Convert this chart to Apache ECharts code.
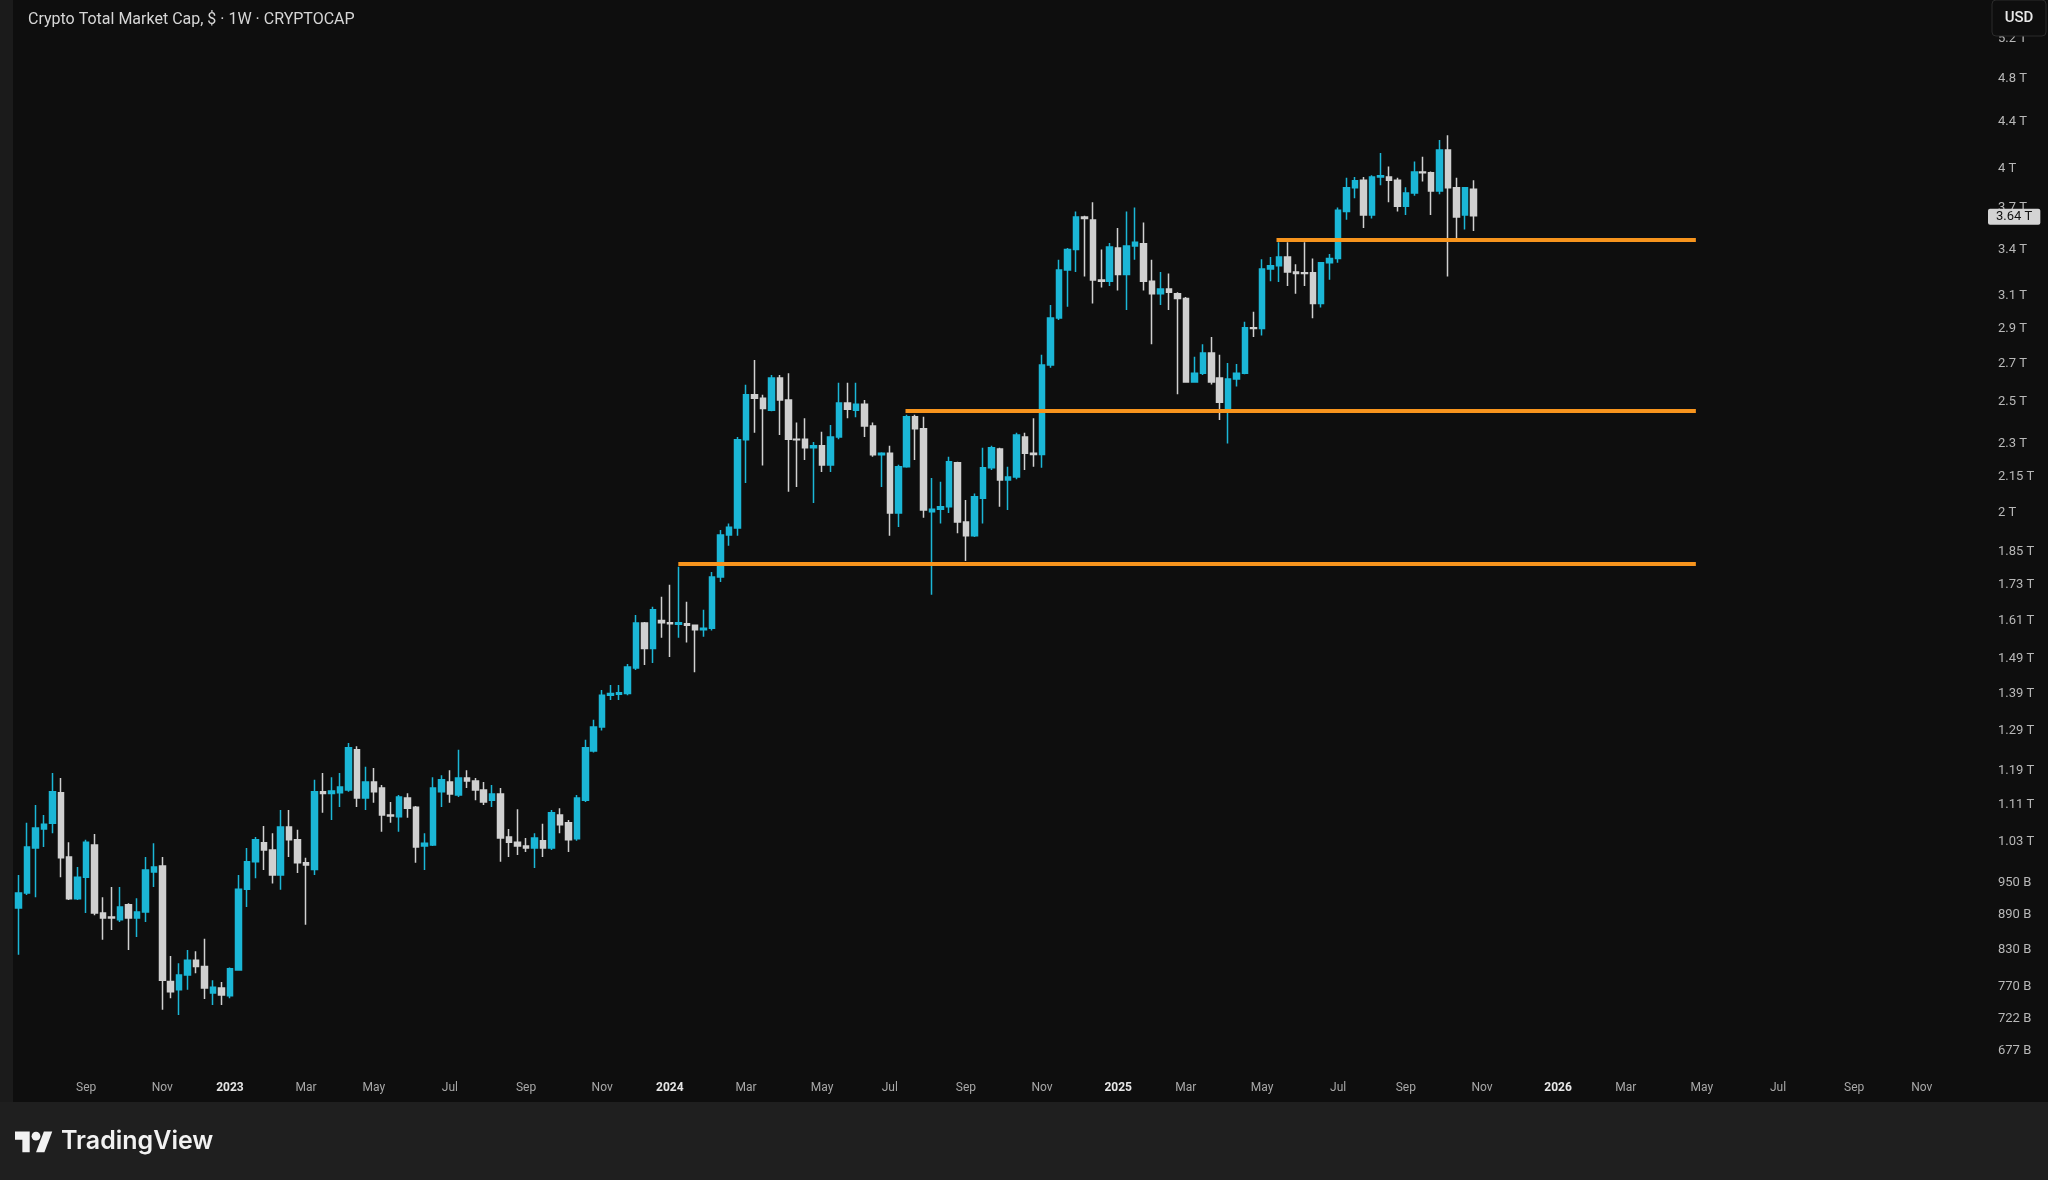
<!DOCTYPE html>
<html><head><meta charset="utf-8">
<script src="https://cdn.jsdelivr.net/npm/echarts@6/dist/echarts.min.js"></script>
<style>html,body{margin:0;padding:0;background:#0e0e0e;}#c{width:2048px;height:1180px;}</style>
</head><body><div id="c"></div>
<script>
// Weekly bars (Monday open time)
const weeks = [
'2022-07-11','2022-07-18','2022-07-25','2022-08-01','2022-08-08','2022-08-15','2022-08-22','2022-08-29','2022-09-05','2022-09-12','2022-09-19','2022-09-26','2022-10-03','2022-10-10','2022-10-17','2022-10-24','2022-10-31','2022-11-07','2022-11-14','2022-11-21','2022-11-28','2022-12-05','2022-12-12','2022-12-19','2022-12-26',
'2023-01-02','2023-01-09','2023-01-16','2023-01-23','2023-01-30','2023-02-06','2023-02-13','2023-02-20','2023-02-27','2023-03-06','2023-03-13','2023-03-20','2023-03-27','2023-04-03','2023-04-10','2023-04-17','2023-04-24','2023-05-01','2023-05-08','2023-05-15','2023-05-22','2023-05-29','2023-06-05','2023-06-12','2023-06-19','2023-06-26','2023-07-03','2023-07-10','2023-07-17','2023-07-24','2023-07-31','2023-08-07','2023-08-14','2023-08-21','2023-08-28','2023-09-04','2023-09-11','2023-09-18','2023-09-25','2023-10-02','2023-10-09','2023-10-16','2023-10-23','2023-10-30','2023-11-06','2023-11-13','2023-11-20','2023-11-27','2023-12-04','2023-12-11','2023-12-18','2023-12-25',
'2024-01-01','2024-01-08','2024-01-15','2024-01-22','2024-01-29','2024-02-05','2024-02-12','2024-02-19','2024-02-26','2024-03-04','2024-03-11','2024-03-18','2024-03-25','2024-04-01','2024-04-08','2024-04-15','2024-04-22','2024-04-29','2024-05-06','2024-05-13','2024-05-20','2024-05-27','2024-06-03','2024-06-10','2024-06-17','2024-06-24','2024-07-01','2024-07-08','2024-07-15','2024-07-22','2024-07-29','2024-08-05','2024-08-12','2024-08-19','2024-08-26','2024-09-02','2024-09-09','2024-09-16','2024-09-23','2024-09-30','2024-10-07','2024-10-14','2024-10-21','2024-10-28','2024-11-04','2024-11-11','2024-11-18','2024-11-25','2024-12-02','2024-12-09','2024-12-16','2024-12-23','2024-12-30',
'2025-01-06','2025-01-13','2025-01-20','2025-01-27','2025-02-03','2025-02-10','2025-02-17','2025-02-24','2025-03-03','2025-03-10','2025-03-17','2025-03-24','2025-03-31','2025-04-07','2025-04-14','2025-04-21','2025-04-28','2025-05-05','2025-05-12','2025-05-19','2025-05-26','2025-06-02','2025-06-09','2025-06-16','2025-06-23','2025-06-30','2025-07-07','2025-07-14','2025-07-21','2025-07-28','2025-08-04','2025-08-11','2025-08-18','2025-08-25','2025-09-01','2025-09-08','2025-09-15','2025-09-22','2025-09-29','2025-10-06','2025-10-13','2025-10-20','2025-10-27'
];
// [open, close, low, high] in trillions USD
const candles = [
[0.902,0.930,0.821,0.964],[0.930,1.020,0.926,1.071],[1.018,1.060,0.922,1.110],[1.058,1.068,1.020,1.088],[1.070,1.140,1.049,1.184],
[1.138,0.998,0.960,1.172],[1.000,0.919,0.917,1.030],[0.919,0.960,0.917,0.980],[0.960,1.030,0.893,1.035],[1.024,0.893,0.889,1.047],
[0.893,0.884,0.846,0.922],[0.886,0.884,0.863,0.941],[0.881,0.904,0.877,0.941],[0.908,0.884,0.829,0.911],[0.884,0.895,0.851,0.920],
[0.895,0.974,0.877,1.000],[0.970,0.980,0.941,1.028],[0.982,0.780,0.735,1.000],[0.778,0.762,0.752,0.819],[0.765,0.788,0.727,0.807],
[0.788,0.812,0.765,0.829],[0.812,0.802,0.791,0.827],[0.802,0.768,0.751,0.848],[0.760,0.769,0.742,0.780],[0.768,0.757,0.742,0.777],
[0.756,0.798,0.752,0.800],[0.796,0.937,0.796,0.964],[0.937,0.990,0.904,1.018],[0.990,1.035,0.958,1.041],[1.029,1.014,0.974,1.064],
[1.014,0.964,0.948,1.049],[0.964,1.062,0.936,1.099],[1.062,1.035,1.000,1.099],[1.035,0.988,0.968,1.056],[0.988,0.984,0.872,0.998],
[0.975,1.140,0.964,1.168],[1.140,1.136,1.093,1.184],[1.136,1.142,1.077,1.174],[1.138,1.151,1.106,1.184],[1.144,1.246,1.140,1.258],
[1.241,1.126,1.106,1.250],[1.126,1.163,1.099,1.199],[1.163,1.140,1.115,1.196],[1.149,1.088,1.052,1.156],[1.088,1.086,1.071,1.117],
[1.084,1.128,1.052,1.133],[1.126,1.103,1.082,1.137],[1.105,1.020,0.988,1.108],[1.022,1.028,0.974,1.049],[1.024,1.149,1.022,1.174],
[1.140,1.168,1.106,1.179],[1.163,1.135,1.115,1.191],[1.133,1.172,1.128,1.241],[1.172,1.165,1.149,1.191],[1.165,1.144,1.121,1.172],
[1.144,1.117,1.110,1.163],[1.121,1.135,1.106,1.156],[1.135,1.039,0.990,1.149],[1.041,1.030,1.000,1.058],[1.030,1.022,1.004,1.101],
[1.022,1.018,1.010,1.039],[1.018,1.039,0.978,1.049],[1.033,1.018,1.000,1.069],[1.018,1.093,1.014,1.099],[1.088,1.067,1.049,1.103],
[1.071,1.035,1.010,1.077],[1.037,1.126,1.033,1.133],[1.121,1.246,1.117,1.266],[1.238,1.299,1.234,1.318],[1.299,1.385,1.290,1.400],
[1.385,1.390,1.372,1.414],[1.388,1.392,1.372,1.414],[1.390,1.466,1.385,1.475],[1.463,1.602,1.457,1.628],[1.602,1.522,1.472,1.605],
[1.522,1.645,1.478,1.655],[1.610,1.603,1.555,1.689],
[1.603,1.600,1.496,1.730],[1.598,1.603,1.555,1.794],[1.600,1.595,1.540,1.672],[1.595,1.580,1.451,1.595],[1.580,1.585,1.558,1.645],
[1.585,1.758,1.578,1.775],[1.758,1.913,1.740,1.932],[1.913,1.943,1.872,1.958],[1.940,2.317,1.910,2.331],[2.317,2.537,2.124,2.589],
[2.537,2.520,2.350,2.722],[2.520,2.468,2.200,2.537],[2.460,2.625,2.455,2.640],[2.625,2.511,2.340,2.640],[2.511,2.320,2.087,2.650],
[2.320,2.318,2.107,2.400],[2.320,2.280,2.225,2.420],[2.280,2.290,2.040,2.307],[2.290,2.203,2.172,2.355],[2.203,2.331,2.172,2.388],
[2.331,2.496,2.320,2.600],[2.496,2.465,2.420,2.600],[2.460,2.490,2.425,2.600],[2.490,2.383,2.330,2.511],[2.383,2.248,2.240,2.400],
[2.248,2.255,2.107,2.260],[2.255,2.000,1.910,2.290],[2.000,2.195,1.944,2.204],[2.195,2.427,2.190,2.437],[2.427,2.370,2.225,2.437],
[2.370,2.012,1.980,2.427],[2.005,2.015,1.696,2.146],[2.015,2.025,1.958,2.130],[2.025,2.217,2.000,2.240],[2.213,1.964,1.920,2.217],
[1.964,1.910,1.815,2.053],[1.910,2.066,1.905,2.080],[2.060,2.190,1.958,2.280],[2.190,2.280,2.180,2.290],[2.275,2.137,2.025,2.280],
[2.137,2.150,2.012,2.195],[2.150,2.340,2.140,2.350],[2.330,2.255,2.180,2.350],[2.255,2.250,2.195,2.420],[2.250,2.694,2.190,2.750],
[2.694,2.962,2.680,3.040],[2.962,3.263,2.950,3.330],[3.263,3.400,3.030,3.410],[3.400,3.631,3.250,3.670],[3.631,3.620,3.220,3.640],
[3.609,3.198,3.050,3.740],[3.198,3.190,3.150,3.400],[3.190,3.417,3.160,3.445],
[3.410,3.233,3.130,3.550],[3.233,3.424,3.010,3.670],[3.424,3.450,3.330,3.700],[3.440,3.190,3.130,3.590],[3.190,3.110,2.810,3.330],
[3.110,3.140,3.040,3.250],[3.140,3.120,3.010,3.240],[3.110,3.080,2.540,3.120],[3.080,2.604,2.600,3.090],[2.604,2.650,2.600,2.740],
[2.650,2.760,2.640,2.810],[2.760,2.604,2.590,2.850],[2.625,2.500,2.412,2.750],[2.460,2.620,2.300,2.705],[2.620,2.650,2.580,2.700],
[2.650,2.905,2.645,2.940],[2.905,2.900,2.850,3.000],[2.900,3.270,2.860,3.335],[3.270,3.290,3.190,3.350],[3.290,3.350,3.185,3.450],
[3.350,3.250,3.160,3.450],[3.250,3.240,3.110,3.300],[3.245,3.240,3.160,3.450],[3.245,3.050,2.960,3.340],[3.050,3.310,3.025,3.315],
[3.310,3.340,3.200,3.370],[3.340,3.680,3.310,3.700],[3.670,3.850,3.610,3.930],[3.850,3.905,3.770,3.935],[3.910,3.645,3.550,3.935],
[3.645,3.935,3.620,3.950],[3.935,3.945,3.870,4.130],[3.935,3.910,3.740,4.020],[3.910,3.710,3.670,3.930],[3.710,3.810,3.645,3.855],
[3.810,3.975,3.790,4.060],[3.975,3.970,3.900,4.100],[3.970,3.826,3.645,3.980],[3.826,4.155,3.800,4.240],[4.155,3.850,3.220,4.280],
[3.850,3.630,3.470,3.930],[3.645,3.850,3.540,3.855],[3.840,3.640,3.530,3.910]
];
// Horizontal levels drawn on the chart (trillions)
const levelValues = [1.804, 2.456, 3.466];
const levelStarts = ['2024-01-08', '2024-07-14', '2025-05-17'];
const levelEnd = '2026-04-29';
// Price axis ticks (trillions) and their labels
const priceTicks = [5.2,4.8,4.4,4.0,3.7,3.4,3.1,2.9,2.7,2.5,2.3,2.15,2.0,1.85,1.73,1.61,1.49,1.39,1.29,1.19,1.11,1.03,0.95,0.89,0.83,0.77,0.722,0.677];
const priceTickLabels = ['5.2 T','4.8 T','4.4 T','4 T','3.7 T','3.4 T','3.1 T','2.9 T','2.7 T','2.5 T','2.3 T','2.15 T','2 T','1.85 T','1.73 T','1.61 T','1.49 T','1.39 T','1.29 T','1.19 T','1.11 T','1.03 T','950 B','890 B','830 B','770 B','722 B','677 B'];
const priceRange = [0.6535, 5.6216];
// Time axis ticks and labels
const timeTicks = ['2022-09-05','2022-11-07','2023-01-02','2023-03-06','2023-05-01','2023-07-03','2023-09-04','2023-11-06','2024-01-01','2024-03-04','2024-05-06','2024-07-01','2024-09-02','2024-11-04','2025-01-06','2025-03-03','2025-05-05','2025-07-07','2025-09-01','2025-11-03','2026-01-05','2026-03-02','2026-05-04','2026-07-06','2026-09-07','2026-11-02'];
const timeTickLabels = ['Sep','Nov','2023','Mar','May','Jul','Sep','Nov','2024','Mar','May','Jul','Sep','Nov','2025','Mar','May','Jul','Sep','Nov','2026','Mar','May','Jul','Sep','Nov'];
const timeRange = ['2022-07-06T11:15:00Z', '2026-12-13T12:00:00Z'];

const ts = s => Date.parse(s.length > 10 ? s : s + 'T00:00:00Z');
const ln = Math.log;
const BULL = '#1bb6d6', BEAR = '#d0d0d0', ORANGE = '#f7941d';

const seriesData = weeks.map((w, i) => {
  const c = candles[i];
  return [ts(w), ln(c[0]), ln(c[1]), ln(c[2]), ln(c[3])];
});
const lastClose = candles[candles.length - 1][1];

function nearestLabel(v, vals, labels) {
  let best = 0, d = Infinity;
  vals.forEach((p, i) => { const dd = Math.abs(p - v); if (dd < d) { d = dd; best = i; } });
  return labels[best];
}
const timeTickNums = timeTicks.map(ts);
const priceTickNums = priceTicks.map(ln);

const markData = levelValues.map((v, i) => [
  { coord: [ts(levelStarts[i]), ln(v)], lineStyle: { color: ORANGE, width: 4, type: 'solid', opacity: 1 } },
  { coord: [ts(levelEnd), ln(v)] }
]);
markData.push({
  yAxis: ln(lastClose),
  lineStyle: { color: 'rgba(0,0,0,0)', width: 0 },
  label: {
    show: true, position: 'end', distance: 16,
    formatter: () => lastClose.toFixed(2) + ' T',
    backgroundColor: '#d4d4d4', color: '#111', fontSize: 13, fontFamily: 'Roboto',
    padding: [2, 8, 1, 8], borderRadius: 2
  }
});

// TradingView logo outline (decoration)
const logoPts = (pts) => pts.map(p => [15 + p[0] * 1.05, 1127 + p[1] * 1.15]);

const chart = echarts.init(document.getElementById('c'), null, { renderer: 'canvas' });
chart.setOption({
  animation: false,
  backgroundColor: '#0e0e0e',
  title: {
    text: 'Crypto Total Market Cap, $ · 1W · CRYPTOCAP',
    left: 23, top: 7,
    textStyle: { color: '#d6d6d6', fontSize: 16, fontWeight: 'normal', fontFamily: 'Roboto' }
  },
  grid: { left: 13, top: 0, width: 1959, height: 1068 },
  xAxis: {
    type: 'value',
    min: ts(timeRange[0]), max: ts(timeRange[1]),
    axisLine: { show: false }, axisTick: { show: false }, splitLine: { show: false },
    axisLabel: {
      customValues: timeTickNums,
      margin: 14,
      color: '#a8a8a8', fontSize: 12, fontFamily: 'Roboto',
      formatter: v => {
        const s = nearestLabel(v, timeTickNums, timeTickLabels);
        return /^\d{4}$/.test(s) ? '{y|' + s + '}' : s;
      },
      rich: { y: { color: '#e6e6e6', fontWeight: 'bold', fontSize: 12, fontFamily: 'Roboto' } }
    }
  },
  yAxis: {
    type: 'value', position: 'right',
    min: ln(priceRange[0]), max: ln(priceRange[1]),
    axisLine: { show: false }, axisTick: { show: false }, splitLine: { show: false },
    axisLabel: {
      customValues: priceTickNums,
      margin: 26,
      color: '#b8b8b8', fontSize: 13, fontFamily: 'Roboto',
      formatter: v => nearestLabel(v, priceTickNums, priceTickLabels)
    }
  },
  series: [{
    type: 'candlestick',
    data: seriesData,
    encode: { x: 0, y: [1, 2, 3, 4] },
    clip: false,
    barWidth: 6,
    itemStyle: { color: BULL, color0: BEAR, borderColor: BULL, borderColor0: BEAR, borderWidth: 1.5 },
    markLine: { silent: true, symbol: ['none', 'none'], label: { show: false }, data: markData }
  }],
  graphic: [
    { type: 'rect', shape: { x: 0, y: 0, width: 13, height: 1102 }, style: { fill: '#1b1b1b' }, z: 1 },
    { type: 'rect', shape: { x: 0, y: 1102, width: 2048, height: 78 }, style: { fill: '#1f1f1f' }, z: 1 },
    { type: 'polygon', shape: { points: logoPts([[14,22],[7,22],[7,11],[0,11],[0,4],[14,4]]) }, style: { fill: '#f2f2f2' }, z: 10 },
    { type: 'polygon', shape: { points: logoPts([[28,22],[20,22],[27.5,4],[35.5,4]]) }, style: { fill: '#f2f2f2' }, z: 10 },
    { type: 'circle', shape: { cx: 15 + 20 * 1.05, cy: 1127 + 8 * 1.15, r: 4.4 }, style: { fill: '#f2f2f2' }, z: 10 },
    { type: 'text', x: 61, y: 1141, style: { text: 'TradingView', fill: '#f2f2f2', font: '600 25px Inter', textVerticalAlign: 'middle' }, z: 10 },
    { type: 'rect', shape: { x: 1992, y: 0, width: 54, height: 36, r: 4 }, style: { fill: '#0e0e0e', stroke: '#2b2b2b', lineWidth: 1 }, z: 100 },
    { type: 'text', x: 2019, y: 18, style: { text: 'USD', fill: '#e8e8e8', font: '500 15px Roboto', textAlign: 'center', textVerticalAlign: 'middle' }, z: 101 }
  ]
});
</script></body></html>
